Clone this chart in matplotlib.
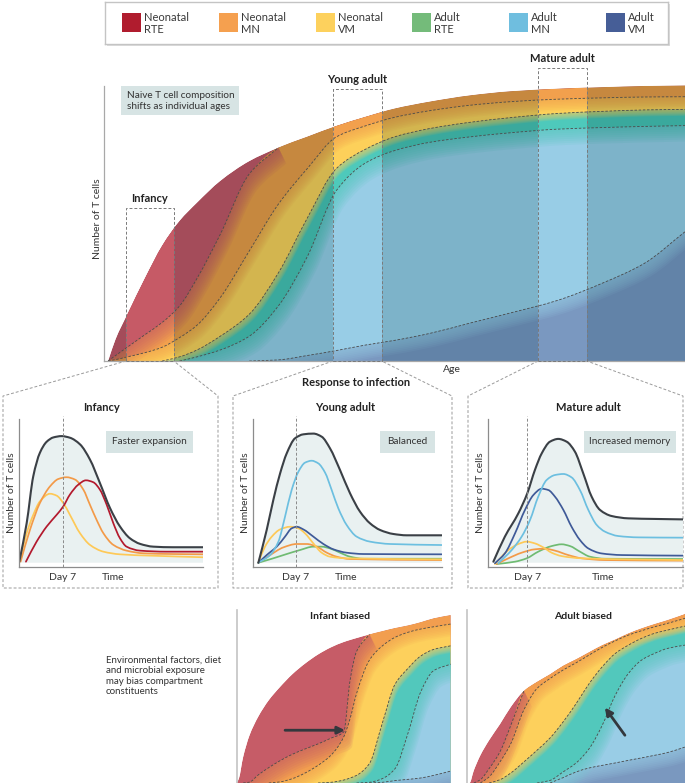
import numpy as np
import matplotlib
matplotlib.use("Agg")
import matplotlib.pyplot as plt
from matplotlib.path import Path
from matplotlib.patches import PathPatch, Rectangle
from matplotlib.transforms import Bbox, TransformedBbox

plt.rcParams['font.family'] = ['Lato', 'DejaVu Sans']

# ---------------------------------------------------------------- data
legend_labels = ["Neonatal\nRTE", "Neonatal\nMN", "Neonatal\nVM",
                 "Adult\nRTE", "Adult\nMN", "Adult\nVM"]
legend_colors = ["#b01c2e", "#f5a04f", "#fdd15d", "#74bb7a", "#6fbedf", "#465e97"]

# main chart: age grid and cumulative boundaries (bottom of each layer from top)
age = [0.7, 2, 4, 7, 10, 13, 16, 20, 25, 30, 35, 40, 45, 50, 56, 63, 70, 78, 86, 93, 100]
total_cells = [0, 8, 17, 30, 42, 51, 57.6, 65.5, 72.7, 77.6, 81.6, 85.5, 88.8, 91.8,
               94.3, 96.6, 98.1, 99.0, 99.6, 100, 100.2]
upto_neo_mn = [0, 2, 5, 9.5, 14, 20, 30, 46, 68, 77.6, 81.6, 85.5, 88.8, 91.8,
               94.3, 96.6, 98.1, 99.0, 99.6, 100, 100.2]
upto_neo_vm = [0, 0.5, 1.5, 3, 5, 8.5, 13, 23, 40, 57, 70, 81.5, 85.5, 88.6,
               91, 93, 94.3, 95.2, 95.7, 96, 96.1]
upto_ad_rte = [0, 0, 0, 0, 0, 1.5, 4, 9, 17, 32, 52, 70, 77, 81.5,
               84.5, 86.8, 88.5, 90, 90.8, 91.3, 91.5]
upto_ad_mn = [0, 0, 0, 0, 0, 0, 1.5, 4, 9, 20, 38, 62, 72, 76.5,
              79.5, 81.5, 83, 84.3, 84.9, 85.3, 85.6]
upto_ad_vm = [0, 0, 0, 0, 0, 0, 0, 0, 0, 0.4, 2, 3.8, 5.8, 7.5,
              10, 13.8, 17.5, 22, 28.5, 35.5, 47]

main_dark = ["#a44c5a", "#c6883f", "#d3b54f", "#3aa99d", "#7db3c9", "#6283a8"]
main_bright = ["#c65a66", "#f2a04d", "#fdd05a", "#4ec9bb", "#98cde6", "#7a98c0"]

box_names = ["Infancy", "Young adult", "Mature adult"]
box_start = [3.8, 39.4, 74.7]
box_end = [12.0, 47.8, 83.1]
box_top = [55.6, 98.9, 106.5]

# response panels: (time, cells)
p1_total = [(0, 3.4), (4, 29.5), (7.6, 61.4), (11.2, 77.3), (14.9, 84.8), (18.5, 87.7),
            (23, 88.6), (27.5, 87.5), (33, 83), (38.4, 72.7), (43.8, 56.8), (49.3, 39.8),
            (54.7, 27.3), (60.1, 19.3), (65.6, 15.5), (72.8, 13.6), (83.7, 13.2), (100, 13.2)]
p1_neo_rte = [(3.6, 3.4), (9.4, 17), (14.9, 27.3), (20.3, 35.2), (23.9, 40.9), (27.5, 48.9),
              (32.1, 55.7), (36.2, 58.6), (40.2, 57.3), (43.8, 52.3), (47.5, 42), (51.1, 29.5),
              (54.7, 19.3), (58.3, 13.6), (65.6, 10.9), (80, 10.2), (100, 10.2)]
p1_neo_mn = [(0.7, 3.4), (5.8, 25), (11.2, 43.2), (16.7, 54.5), (21.2, 59.5), (25.7, 60.7),
             (30.3, 59.1), (34.8, 52.3), (38.4, 42), (42, 31.8), (45.7, 22.7), (51.1, 14.8),
             (58.3, 10.9), (67.4, 9.1), (83.7, 8.6), (100, 8.4)]
p1_neo_vm = [(0, 3.4), (4, 22.7), (7.6, 35.2), (11.2, 44.3), (16.7, 49.5), (20.3, 48.2),
             (23.9, 43.2), (27.5, 35.2), (33, 22.7), (38.4, 14.8), (45.7, 10.2), (54.7, 8.4),
             (71, 7.5), (100, 6.4)]

p2_total = [(3, 2.7), (7.4, 24.9), (10.9, 45.2), (14.5, 63.3), (18, 76.9), (22.4, 87.1),
            (26.8, 89.8), (32.1, 90.3), (36.5, 88.2), (40.9, 80.3), (46.2, 65.6), (51.5, 49.8),
            (56.8, 37.3), (62.1, 29.4), (67.4, 24.9), (74.4, 22.2), (81.5, 21.3), (100, 21.3)]
p2_ad_mn = [(3, 2.7), (9.2, 7.9), (13.6, 17), (17.1, 33.9), (20.6, 52), (24.2, 64.5),
            (27.7, 70.6), (31.2, 71.9), (34.7, 70.1), (38.3, 63.8), (41.8, 52), (45.3, 39.6),
            (49.7, 28.3), (55, 20.4), (62.1, 17), (72.7, 15.4), (100, 14.7)]
p2_ad_vm = [(3, 2.7), (7.4, 7.9), (12.7, 13.6), (17.1, 20.4), (20.6, 26), (23.3, 27.1),
            (26.8, 25.3), (32.1, 20.4), (37.4, 15.4), (42.7, 11.8), (49.7, 9.5), (58.6, 8.6),
            (100, 8.4)]
p2_neo_vm = [(3, 2.7), (6.5, 13.6), (10.1, 20.4), (14.5, 25.3), (19.8, 27.1), (24.2, 26),
             (27.7, 22.6), (32.1, 15.8), (36.5, 9.5), (40.9, 6.8), (49.7, 5.7), (100, 5)]
p2_neo_mn = [(3, 2.7), (9.2, 7.9), (16.2, 13.1), (23.3, 15.4), (28.6, 15.4), (33.9, 13.6),
             (39.2, 9.5), (44.4, 6.8), (51.5, 5.2), (100, 4.5)]
p2_ad_rte = [(3, 2.7), (10.9, 5.7), (18, 8.6), (25, 11.3), (32.1, 13.6), (36.5, 13.6),
             (40.9, 12.4), (46.2, 9.5), (51.5, 6.8), (58.6, 5.4), (100, 5.4)]

p3_total = [(2.6, 3.4), (8.5, 20.4), (15.4, 36.2), (20, 49.8), (23.9, 65.6), (27.4, 76.9),
            (31.6, 84.8), (35.9, 86.7), (40.2, 84.8), (44.4, 78.1), (48.7, 63.3), (53, 47.5),
            (57.3, 38.5), (63.2, 34.4), (71.8, 32.8), (85.5, 32.4), (100, 32.1)]
p3_ad_mn = [(5.1, 2.3), (12, 11.3), (17.1, 20.4), (21.4, 31.7), (25.6, 47.5), (29.9, 58.8),
            (34.2, 62.2), (38.5, 62.9), (42.7, 60.6), (47, 52), (51.3, 38.5), (55.6, 28.3),
            (59.8, 23.8), (66.7, 20.8), (76.9, 19.9), (100, 19.7)]
p3_ad_vm = [(3.4, 2.3), (8.5, 9), (13.7, 22.6), (18.8, 38.5), (23.1, 48.6), (27.4, 52.9),
            (30.8, 52), (34.2, 47.5), (38.5, 38.5), (42.7, 27.1), (47, 18.1), (51.3, 12.4),
            (58.1, 9), (68.4, 7.9), (100, 7.5)]
p3_neo_vm = [(3.4, 1.8), (10.3, 11.3), (15.4, 15.4), (19.7, 17), (23.9, 15.8), (28.2, 13.1),
             (32.5, 9.5), (37.6, 7.2), (47.9, 5.7), (100, 4.5)]
p3_neo_mn = [(4.3, 1.8), (10.3, 5.7), (17.1, 9.5), (23.9, 11.8), (29.1, 12.2), (34.2, 10.9),
             (41, 7.9), (47.9, 5.7), (59.8, 4.5), (100, 4.1)]
p3_ad_rte = [(4.3, 1.8), (13.7, 3.4), (19.7, 5.7), (25.6, 10.2), (32.5, 14), (37.6, 15.2),
             (41.9, 14), (47, 10.2), (52.1, 6.8), (59.8, 5.4), (100, 5.2)]

line_colors = {"total": "#3b4046", "neo_rte": "#b3192d", "neo_mn": "#f39a48",
               "neo_vm": "#fec957", "ad_rte": "#6fbb72", "ad_mn": "#6cbfe0", "ad_vm": "#3f5a98"}
panel_titles = ["Infancy", "Young adult", "Mature adult"]
panel_notes = ["Faster expansion", "Balanced", "Increased memory"]
day7 = [23.6, 22.8, 19.9]

# biased panels
bias_x = [0, 1, 3, 6, 10, 15, 20, 26, 32, 38, 44, 50, 53, 56, 62, 68, 74, 80, 86, 92, 100]
inf_total = [0, 2.5, 15, 27.6, 38.2, 47.9, 55.2, 62.9, 69.1, 74.3, 78.4, 81.5, 82.7, 83.8,
             85.9, 87.8, 89.6, 91.1, 93, 95.2, 97.1]
inf_b1 = [0, 0, 0, 0.5, 4.6, 8.9, 12.7, 16.6, 19.7, 22.6, 25.9, 29.5, 59.5, 76,
          85.9, 87.8, 89.6, 91.1, 93, 95.2, 97.1]
inf_b2 = [0, 0, 0, 0, 0, 0, 0.6, 2.5, 5.8, 10.2, 16, 26.6, 37.3, 51.7,
          71, 79.2, 84.2, 87.1, 89, 90.3, 91.9]
inf_b3 = [0, 0, 0, 0, 0, 0, 0, 0, 0, 0, 0.4, 1.7, 2.9, 4.4,
          11.2, 34.4, 57.1, 66.2, 73.4, 77.2, 79.3]
inf_b4 = [0, 0, 0, 0, 0, 0, 0, 0, 0, 0, 0, 0, 0, 0,
          0.4, 2.5, 8.3, 28.6, 52.7, 64.9, 68.7]
inf_b5 = [0, 0, 0, 0, 0, 0, 0, 0, 0, 0, 0, 0, 0, 0,
          0, 0.4, 1.4, 2.1, 2.9, 4.4, 6.9]

bias_x2 = [0, 1, 3, 6, 10, 15, 20, 26, 32, 38, 44, 50, 56, 62, 68, 74, 80, 86, 92, 100]
adu_total = [0, 0, 7.3, 16, 24.7, 34, 44, 53.3, 58.5, 62.9, 67.8, 71.6, 75.7, 79.7,
             83, 86.5, 89.4, 91.9, 94.2, 97.7]
adu_b1 = [0, 0, 0, 1.9, 8.3, 18, 33.4, 53.3, 58.5, 62.9, 67.8, 71.6, 75.7, 79.7,
          83, 86.5, 89.4, 91.9, 94.2, 97.7]
adu_b2 = [0, 0, 0, 0, 3.5, 12.2, 22.8, 42.3, 54.6, 60.4, 65.3, 69.5, 74, 78.4,
          82.2, 85.5, 88, 90.3, 92.3, 95.2]
adu_b3 = [0, 0, 0, 0, 0, 1.9, 5.8, 12.2, 18.9, 26, 35.3, 45.9, 57.5, 67.2,
          74.9, 79.7, 83.6, 86.5, 88.4, 90.7]
adu_b4 = [0, 0, 0, 0, 0, 0, 0, 0, 0, 1.5, 6.4, 11.6, 19.9, 33.4,
          50.8, 63.3, 71, 74.9, 77.8, 79.7]
adu_b5 = [0, 0, 0, 0, 0, 0, 0, 0, 0, 0, 3.1, 6.4, 8.7, 10.2,
          11.6, 13.1, 14.5, 16, 17.6, 20.8]
bias_colors = ["#c65c67", "#f29e4f", "#fdd05c", "#52c8bc", "#99cde6", "#7a98bf"]
bias_titles = ["Infant biased", "Adult biased"]
inf_arrow = ((22.6, 30.5), (50.6, 30.5))
adu_arrow = ((72.4, 27.6), (63.2, 43.6))

# ---------------------------------------------------------------- helpers
W, H = 685, 783
fig = plt.figure(figsize=(W / 100, H / 100), dpi=100)


def add_ax(x0, y0, x1, y1, z=1):
    ax = fig.add_axes([x0 / W, 1 - y1 / H, (x1 - x0) / W, (y1 - y0) / H])
    ax.set_zorder(z)
    ax.px_w, ax.px_h = x1 - x0, y1 - y0
    return ax


def segments(x, y):
    x = np.asarray(x, float)
    y = np.asarray(y, float)
    h = np.diff(x)
    d = np.diff(y) / h
    n = len(x)
    m = np.zeros(n)
    m[0], m[-1] = d[0], d[-1]
    for k in range(1, n - 1):
        if d[k - 1] * d[k] <= 0:
            m[k] = 0.0
        else:
            w1 = 2 * h[k] + h[k - 1]
            w2 = h[k] + 2 * h[k - 1]
            m[k] = (w1 + w2) / (w1 / d[k - 1] + w2 / d[k])
    segs = []
    for k in range(n - 1):
        segs.append(((x[k], y[k]),
                     (x[k] + h[k] / 3, y[k] + m[k] * h[k] / 3),
                     (x[k + 1] - h[k] / 3, y[k + 1] - m[k + 1] * h[k] / 3),
                     (x[k + 1], y[k + 1])))
    return segs


def curve_path(x, y):
    segs = segments(x, y)
    verts = [segs[0][0]]
    codes = [Path.MOVETO]
    for s in segs:
        verts += [s[1], s[2], s[3]]
        codes += [Path.CURVE4] * 3
    return Path(verts, codes)


def under_path(x, y, base=0.0):
    segs = segments(x, y)
    verts = [(segs[0][0][0], base), segs[0][0]]
    codes = [Path.MOVETO, Path.LINETO]
    for s in segs:
        verts += [s[1], s[2], s[3]]
        codes += [Path.CURVE4] * 3
    verts += [(segs[-1][3][0], base), (segs[0][0][0], base)]
    codes += [Path.LINETO, Path.CLOSEPOLY]
    return Path(verts, codes)


def band_path(segs, dx, dy):
    verts = [segs[0][0]]
    codes = [Path.MOVETO]
    for s in segs:
        verts += [s[1], s[2], s[3]]
        codes += [Path.CURVE4] * 3
    last = segs[-1][3]
    verts.append((last[0] + dx, last[1] + dy))
    codes.append(Path.LINETO)
    for s in reversed(segs):
        verts += [(s[2][0] + dx, s[2][1] + dy), (s[1][0] + dx, s[1][1] + dy),
                  (s[0][0] + dx, s[0][1] + dy)]
        codes += [Path.CURVE4] * 3
    verts.append(segs[0][0])
    codes.append(Path.CLOSEPOLY)
    return Path(verts, codes)


def dashed_span(x, y, top):
    y = np.asarray(y, float)
    top = np.asarray(top, float)
    i0 = 0
    while i0 + 1 < len(y) and y[i0 + 1] <= 0:
        i0 += 1
    i1 = len(y) - 1
    idx = np.where(y >= top - 1e-9)[0]
    idx = idx[idx > i0]
    if len(idx):
        i1 = idx[0]
    return list(np.asarray(x)[i0:i1 + 1]), list(y[i0:i1 + 1])


FEATHER = (1, 2, 3, 4, 5, 6, 7, 8)
FEATHER_WIDTH = [0, 2.2, 1.6, 0.9, 2.2, 1.8]   # px per step, per boundary


def draw_layers(ax, x, bounds, colors, clip_bbox=None):
    ux = (ax.get_xlim()[1] - ax.get_xlim()[0]) / ax.px_w
    uy = (ax.get_ylim()[1] - ax.get_ylim()[0]) / ax.px_h
    bb = clip_bbox if clip_bbox is not None else Bbox([[-1, 0], [101, 120]])
    env_path = under_path(x, bounds[0])

    def clip(p):
        p.set_clip_path(PathPatch(env_path, transform=ax.transData))
        p.set_clip_box(TransformedBbox(bb, ax.transData))

    for b, c in zip(bounds, colors):
        p = PathPatch(under_path(x, b), fc=c, ec="none", lw=0)
        ax.add_patch(p)
        clip(p)
    # soft transitions: each compartment colour bleeds into the one below it
    for k in range(1, len(bounds)):
        xs, ys = dashed_span(x, bounds[k], bounds[0])
        if len(xs) < 2:
            continue
        segs = segments(xs, ys)
        for st in FEATHER:
            s = st * FEATHER_WIDTH[k]
            p = PathPatch(band_path(segs, s * 0.45 * ux, -s * 0.9 * uy),
                          fc=colors[k - 1], ec="none", lw=0, alpha=0.12)
            ax.add_patch(p)
            clip(p)


DASH = dict(edgecolor="#4a4a4a", lw=0.6, linestyle=(0, (3, 2)), fill=False)
TXT = "#333333"

# ---------------------------------------------------------------- overlay
ov = add_ax(0, 0, W, H, z=0)
ov.set_xlim(0, W)
ov.set_ylim(H, 0)
ov.axis("off")

# ---------------------------------------------------------------- legend
ov.add_patch(Rectangle((107, 4), 563, 42, fc="#dcdcdc", ec="none"))
leg = add_ax(105, 2, 668, 44, z=2)
leg.set_xlim(0, 563)
leg.set_ylim(42, 0)
leg.set_xticks([])
leg.set_yticks([])
for sp in leg.spines.values():
    sp.set_color("#c4c4c4")
    sp.set_linewidth(1)
for i, (lab, col) in enumerate(zip(legend_labels, legend_colors)):
    x0 = 17 + i * 96.8
    leg.add_patch(Rectangle((x0, 11), 19, 19, fc=col, ec="none"))
    leg.text(x0 + 22, 21.5, lab, va="center", ha="left", fontsize=8,
             color="#3a3a3a", linespacing=1.05)

# ---------------------------------------------------------------- main chart
ax = add_ax(104, 86, 685, 361, z=1)
ax.patch.set_visible(False)
ax.set_xlim(0, 100)
ax.set_ylim(0, 100)
ax.set_xticks([])
ax.set_yticks([])
for s in ("top", "right"):
    ax.spines[s].set_visible(False)
for s in ("left", "bottom"):
    ax.spines[s].set_color("#a8a8a8")
    ax.spines[s].set_linewidth(0.9)

bounds = [total_cells, upto_neo_mn, upto_neo_vm, upto_ad_rte, upto_ad_mn, upto_ad_vm]
draw_layers(ax, age, bounds, main_dark)
for s0, s1, tp in zip(box_start, box_end, box_top):
    draw_layers(ax, age, bounds, main_bright, clip_bbox=Bbox([[s0, 0], [s1, tp]]))
for b in bounds[1:]:
    xs, ys = dashed_span(age, b, total_cells)
    if len(xs) > 1:
        ax.add_patch(PathPatch(curve_path(xs, ys), **DASH))

for name, s0, s1, tp in zip(box_names, box_start, box_end, box_top):
    ax.add_patch(Rectangle((s0, 0), s1 - s0, tp, fill=False, ec="#7a7a7a", lw=0.7,
                           linestyle=(0, (3, 2)), clip_on=False, zorder=5))
    ax.text((s0 + s1) / 2, tp + 3.6, name, ha="center", va="center", fontsize=8,
            fontweight="bold", color="#222222", clip_on=False)

ov.add_patch(Rectangle((121, 86), 118, 29, fc="#d7e4e4", ec="none", zorder=3))
fig.text(127 / W, 1 - 101 / H, "Naive T cell composition\nshifts as individual ages",
         ha="left", va="center", fontsize=7.2, color=TXT, linespacing=1.25, zorder=10)
fig.text(97 / W, 1 - 219 / H, "Number of T cells", rotation=90, ha="center", va="center",
         fontsize=7.5, color=TXT)
fig.text(452 / W, 1 - 369 / H, "Age", ha="center", va="center", fontsize=7.5, color=TXT)
fig.text(356 / W, 1 - 383 / H, "Response to infection", ha="center", va="center",
         fontsize=8, fontweight="bold", color="#222222")

# ---------------------------------------------------------------- connectors + panels
panel_left = [3, 233, 468]
panel_right = [218, 452, 683]
panel_top = 396
panel_bottom = 588
conn = dict(color="#9a9a9a", lw=0.7, linestyle=(0, (3, 2)))
for i in range(3):
    bl = 104 + box_start[i] * 5.81
    br = 104 + box_end[i] * 5.81
    L, R = panel_left[i], panel_right[i]
    ov.plot([bl, L, L, R, R, br], [361, panel_top, panel_bottom, panel_bottom, panel_top, 361],
            **conn)

panel_axes_px = [(19.3, 203.3), (252.7, 441.7), (488.3, 683.3)]
panel_title_x = [101, 345, 588]
panel_time_x = [113, 346, 603]
panel_curves = [
    [("neo_vm", p1_neo_vm), ("neo_mn", p1_neo_mn), ("neo_rte", p1_neo_rte), ("total", p1_total)],
    [("ad_rte", p2_ad_rte), ("neo_mn", p2_neo_mn), ("neo_vm", p2_neo_vm), ("ad_vm", p2_ad_vm),
     ("ad_mn", p2_ad_mn), ("total", p2_total)],
    [("ad_rte", p3_ad_rte), ("neo_mn", p3_neo_mn), ("neo_vm", p3_neo_vm), ("ad_vm", p3_ad_vm),
     ("ad_mn", p3_ad_mn), ("total", p3_total)],
]
note_boxes = [(106, 193), (380, 435), (584, 676)]
for i in range(3):
    x0, x1 = panel_axes_px[i]
    pa = add_ax(x0, 419.3, x1, 566.7, z=1)
    pa.set_xlim(0, 100)
    pa.set_ylim(0, 100)
    pa.set_xticks([])
    pa.set_yticks([])
    pa.patch.set_alpha(0)
    for s in ("top", "right"):
        pa.spines[s].set_visible(False)
    for s in ("left", "bottom"):
        pa.spines[s].set_color("#8c8c8c")
        pa.spines[s].set_linewidth(0.9)
    tot = dict(panel_curves[i])["total"]
    tx, ty = zip(*tot)
    pa.add_patch(PathPatch(under_path(tx, ty, base=2.7), fc="#e9f1f1", ec="none"))
    pa.vlines(day7[i], 0, 102, colors="#8a8a8a", lw=0.7, linestyles=(0, (3, 2)),
              clip_on=False)
    for key, pts in panel_curves[i]:
        cx, cy = zip(*pts)
        pa.add_patch(PathPatch(curve_path(cx, cy), fill=False, ec=line_colors[key],
                               lw=1.5 if key == "total" else 1.25, capstyle="round"))
    px_day = x0 + day7[i] / 100 * (x1 - x0)
    fig.text(px_day / W, 1 - 577 / H, "Day 7", ha="center", va="center", fontsize=7.5,
             color=TXT)
    fig.text(panel_time_x[i] / W, 1 - 577 / H, "Time", ha="center", va="center",
             fontsize=7.5, color=TXT)
    fig.text((x0 - 7.5) / W, 1 - 493 / H, "Number of T cells", rotation=90, ha="center",
             va="center", fontsize=7.5, color=TXT)
    fig.text(panel_title_x[i] / W, 1 - 408 / H, panel_titles[i], ha="center", va="center",
             fontsize=8, fontweight="bold", color="#222222")
    nb0, nb1 = note_boxes[i]
    ov.add_patch(Rectangle((nb0, 431), nb1 - nb0, 22, fc="#d7e4e4", ec="none", zorder=3))
    fig.text((nb0 + nb1) / 2 / W, 1 - 442 / H, panel_notes[i], ha="center", va="center",
             fontsize=7.2, color=TXT, zorder=10)

# ---------------------------------------------------------------- biased panels
fig.text(106 / W, 1 - 676 / H,
         "Environmental factors, diet\nand microbial exposure\nmay bias compartment\nconstituents",
         ha="left", va="center", fontsize=7, color=TXT, linespacing=1.2)

bias_sets = [
    (bias_x, [inf_total, inf_b1, inf_b2, inf_b3, inf_b4, inf_b5], inf_arrow, (236.7, 450.7), 0.483),
    (bias_x2, [adu_total, adu_b1, adu_b2, adu_b3, adu_b4, adu_b5], adu_arrow, (467.3, 685), 0.53),
]
for j, (bx, bb, arr, (x0, x1), tpos) in enumerate(bias_sets):
    ba = add_ax(x0, 610, x1, 783, z=1)
    ba.set_xlim(0, 100)
    ba.set_ylim(0, 100)
    ba.set_xticks([])
    ba.set_yticks([])
    for s in ("top", "right", "bottom"):
        ba.spines[s].set_visible(False)
    ba.spines["left"].set_color("#c4c4c4")
    ba.spines["left"].set_linewidth(1.2)
    draw_layers(ba, bx, bb, bias_colors)
    for b in bb[1:]:
        xs, ys = dashed_span(bx, b, bb[0])
        if len(xs) > 1:
            ba.add_patch(PathPatch(curve_path(xs, ys), **DASH))
    ba.annotate("", xy=arr[1], xytext=arr[0],
                arrowprops=dict(arrowstyle="-|>", color="#33383d", lw=2.0,
                                mutation_scale=11, shrinkA=0, shrinkB=0))
    ba.text(tpos, 0.965, bias_titles[j], transform=ba.transAxes, ha="center", va="center",
            fontsize=7.5, fontweight="bold", color="#222222")

fig.savefig("out.png", dpi=100)
